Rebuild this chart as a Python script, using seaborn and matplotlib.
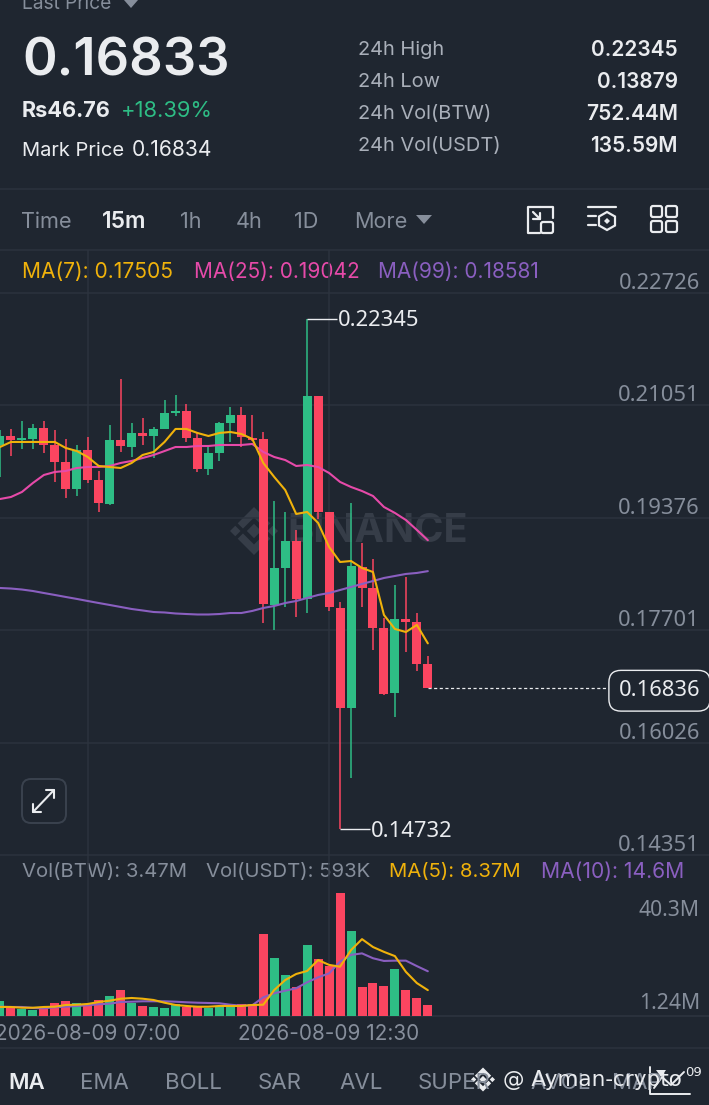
"""
BTW/USDT 15m candle chart, dark exchange app screen
"""
import numpy as np
import pandas as pd
import seaborn as sns
import matplotlib
matplotlib.use('Agg')
import matplotlib.pyplot as plt
from matplotlib.patches import FancyBboxPatch, Polygon
from matplotlib.transforms import ScaledTranslation

# Candles, oldest first
open_px = [0.20461, 0.20595, 0.20536, 0.20551, 0.20714, 0.20461, 0.20208, 0.19806, 0.20387, 0.19940,
           0.19582, 0.20536, 0.20431, 0.20640, 0.20595, 0.20700, 0.20938, 0.20968, 0.20565, 0.20104,
           0.20342, 0.20789, 0.20908, 0.20565, 0.20551, 0.18077, 0.18628, 0.19031, 0.18167, 0.21191,
           0.19463, 0.18032, 0.16542, 0.18643, 0.18330, 0.17734, 0.16766, 0.17869, 0.17824, 0.17198]
close_px = [0.20595, 0.20536, 0.20565, 0.20714, 0.20461, 0.20208, 0.19806, 0.20387, 0.19940, 0.19597,
            0.20536, 0.20446, 0.20640, 0.20595, 0.20700, 0.20938, 0.20968, 0.20565, 0.20104, 0.20342,
            0.20789, 0.20908, 0.20580, 0.20536, 0.18092, 0.18628, 0.19031, 0.18167, 0.21191, 0.19463,
            0.18047, 0.16542, 0.18658, 0.18330, 0.17734, 0.16751, 0.17869, 0.17824, 0.17198, 0.16836]
high_px = [0.20685, 0.20700, 0.20819, 0.20774, 0.20819, 0.20685, 0.20551, 0.20461, 0.20580, 0.20074,
           0.20759, 0.21445, 0.20789, 0.20863, 0.20729, 0.21132, 0.21206, 0.21072, 0.20640, 0.20431,
           0.20804, 0.21027, 0.21027, 0.20908, 0.20655, 0.19627, 0.19463, 0.19195, 0.22345, 0.21191,
           0.19463, 0.18122, 0.19597, 0.19001, 0.18763, 0.17883, 0.18375, 0.18494, 0.17958, 0.17317]
low_px = [0.19984, 0.20297, 0.20402, 0.20402, 0.20342, 0.19910, 0.19671, 0.19701, 0.19895, 0.19463,
          0.19567, 0.20357, 0.20282, 0.20461, 0.20267, 0.20700, 0.20893, 0.20506, 0.20059, 0.20014,
          0.20223, 0.20506, 0.20431, 0.20521, 0.17809, 0.17705, 0.18047, 0.17898, 0.17958, 0.19359,
          0.17988, 0.14732, 0.15499, 0.18047, 0.17407, 0.16736, 0.16408, 0.17377, 0.17094, 0.16836]

ma7 = [0.20431, 0.20506, 0.20506, 0.20506, 0.20506, 0.20506, 0.20416, 0.20371, 0.20282, 0.20148,
       0.20133, 0.20118, 0.20193, 0.20312, 0.20357, 0.20506, 0.20700, 0.20700, 0.20640, 0.20595,
       0.20640, 0.20655, 0.20625, 0.20551, 0.20193, 0.19984, 0.19790, 0.19433, 0.19463, 0.19299,
       0.18941, 0.18717, 0.18732, 0.18628, 0.18568, 0.17928, 0.17719, 0.17674, 0.17779, 0.17505]
ma25 = [0.19656, 0.19686, 0.19761, 0.19895, 0.20014, 0.20059, 0.20074, 0.20118, 0.20133, 0.20133,
        0.20148, 0.20193, 0.20223, 0.20267, 0.20312, 0.20371, 0.20431, 0.20431, 0.20446, 0.20446,
        0.20461, 0.20461, 0.20461, 0.20476, 0.20357, 0.20282, 0.20237, 0.20148, 0.20163, 0.20133,
        0.20044, 0.19910, 0.19835, 0.19775, 0.19701, 0.19537, 0.19448, 0.19343, 0.19195, 0.19042]
ma99 = [0.18330, 0.18322, 0.18307, 0.18285, 0.18255, 0.18226, 0.18196, 0.18167, 0.18136, 0.18106,
        0.18077, 0.18047, 0.18017, 0.17995, 0.17972, 0.17965, 0.17950, 0.17942, 0.17935, 0.17935,
        0.17942, 0.17957, 0.17957, 0.17988, 0.18032, 0.18062, 0.18106, 0.18136, 0.18181, 0.18226,
        0.18255, 0.18300, 0.18345, 0.18390, 0.18434, 0.18479, 0.18509, 0.18539, 0.18554, 0.18581]

# Volume, in millions
volume = [4.79, 2.48, 2.15, 1.82, 2.48, 4.13, 4.79, 4.13, 3.14, 5.12,
          6.44, 8.42, 4.13, 3.14, 2.81, 2.48, 3.80, 2.81, 2.81, 2.48,
          2.81, 2.81, 3.80, 3.80, 26.9, 19.0, 13.4, 9.41, 23.3, 18.6,
          16.3, 40.3, 27.9, 9.41, 10.7, 9.74, 15.3, 8.42, 5.78, 3.47]
vol_ma5 = [2.81, 2.81, 2.57, 2.57, 2.81, 2.90, 3.47, 3.56, 3.80, 4.46,
           4.88, 5.54, 5.78, 5.54, 5.12, 4.22, 3.47, 3.14, 2.90, 2.90,
           3.14, 3.14, 3.14, 3.47, 3.56, 8.42, 11.7, 13.7, 14.7, 18.3,
           16.7, 16.1, 21.6, 25.2, 22.6, 21.0, 19.6, 14.4, 10.7, 8.37]
vol_ma10 = [2.90, 2.81, 2.81, 2.48, 2.38, 2.71, 2.90, 3.14, 3.37, 3.70,
            3.89, 4.46, 4.55, 4.69, 4.69, 4.69, 4.55, 4.36, 4.22, 4.13,
            4.03, 3.56, 3.23, 3.37, 6.01, 7.33, 8.18, 8.98, 10.96, 12.6,
            13.9, 17.8, 20.0, 20.5, 18.9, 18.0, 18.1, 18.1, 16.3, 14.6]

price_ticks = [0.22726, 0.21051, 0.19376, 0.17701, 0.16026, 0.14351]
volume_ticks = [40.3, 1.24]
volume_tick_labels = ['40.3M', '1.24M']
time_ticks = [8, 30]
time_labels = ['2026-08-09 07:00', '2026-08-09 12:30']
last_tick = 0.16836

BG = '#1f2630'
GRID = '#2c333e'
GREEN = '#2ebd85'
RED = '#fb4560'
ORANGE = '#f0b20b'
PINK = '#e64aa9'
PURPLE = '#8a5fc0'
GREY = '#868e9b'
SOFT = '#a9afb9'
LIGHT = '#eaecef'
NUM_FONT = 'Noto Sans'  # tabular digits for the axis numbers
STEP = 10.97  # candle spacing in pixels

sns.set_theme(style='dark', rc={'figure.facecolor': BG, 'axes.facecolor': 'none', 'savefig.facecolor': BG})
plt.rcParams['font.family'] = ['Inter', 'DejaVu Sans']

fig = plt.figure(figsize=(7.09, 11.05), dpi=100)
W, H = 709, 1105


def pane(top, bottom):
    return fig.add_axes([0, 1 - bottom / H, 1, (bottom - top) / H])


# Full screen layer for the app chrome, in pixels
ui = fig.add_axes([0, 0, 1, 1], zorder=0)
ui.set_xlim(0, W)
ui.set_ylim(H, 0)
ui.axis('off')
ax = pane(250, 856)
ax.set_zorder(1)
vax = pane(856, 1015.5)
vax.set_zorder(1)

idx = np.arange(len(open_px))
df = pd.DataFrame({'i': idx, 'open': open_px, 'close': close_px, 'high': high_px, 'low': low_px,
                   'volume': volume})
df['up'] = df['close'] >= df['open']
df['top'] = df[['open', 'close']].max(axis=1)
df['bottom'] = df[['open', 'close']].min(axis=1)
df['body'] = df['top'] - df['bottom']

# Candles
for is_up, color in [(True, GREEN), (False, RED)]:
    part = df[df['up'] == is_up]
    ax.vlines(part['i'], part['low'], part['high'], color=color, linewidth=1.1, zorder=3)
    sns.barplot(data=part, x='i', y='body', bottom=part['bottom'].to_numpy(), native_scale=True, width=0.82,
                color=color, saturation=1, errorbar=None, linewidth=0, ax=ax, zorder=3)

sns.lineplot(x=idx, y=ma99, color=PURPLE, linewidth=1.5, ax=ax, zorder=4)
sns.lineplot(x=idx, y=ma25, color=PINK, linewidth=1.5, ax=ax, zorder=4)
sns.lineplot(x=idx, y=ma7, color=ORANGE, linewidth=1.5, ax=ax, zorder=4)

ax.set_xlim(0, W / STEP)
ax.set_ylim(0.14336, 0.14336 + 606 * 0.01675 / 112.4)
ax.set_xlabel('')
ax.set_ylabel('')
ax.set_xticks(time_ticks)
ax.set_xticklabels([])
ax.set_yticks(price_ticks)
ax.set_yticklabels([f'{t:.5f}' for t in price_ticks])
ax.yaxis.tick_right()
ax.tick_params(axis='y', length=0, pad=-6.5, labelsize=15.8, labelcolor=GREY, labelfontfamily=NUM_FONT)
ax.tick_params(axis='x', length=0)
for tick_label in ax.get_yticklabels():
    tick_label.set_ha('right')
    tick_label.set_va('bottom')
    tick_label.set_transform(tick_label.get_transform() + ScaledTranslation(0, -0.01, fig.dpi_scale_trans))
ax.grid(True, color=GRID, linewidth=1.1)
ax.set_axisbelow(True)
for spine in ax.spines.values():
    spine.set_visible(False)

# Extreme price callouts and the live price tag
for pos, val in [(28, 0.22345), (31, 0.14732)]:
    ax.hlines(val, pos, pos + 30 / STEP, color=LIGHT, linewidth=1, zorder=6)
    ax.annotate(f'{val:.5f}', xy=(pos, val), xytext=(31, -2), textcoords='offset pixels', va='center',
                color=LIGHT, fontsize=15.8, family=NUM_FONT, zorder=6)
ax.plot([39, 55.4], [last_tick, last_tick], color=LIGHT, linewidth=0.9, dashes=(2.5, 2), zorder=5)
ax.text(60.12, last_tick, f'{last_tick:.5f}', ha='center', va='center_baseline', color=LIGHT, fontsize=15.8,
        family=NUM_FONT, zorder=7,
        bbox=dict(boxstyle='round,pad=0.45,rounding_size=0.55', facecolor=BG, edgecolor=LIGHT, linewidth=1))

# Volume
sns.barplot(data=df, x='i', y='volume', hue='up', hue_order=[True, False], palette=[GREEN, RED], dodge=False,
            native_scale=True, width=0.82, saturation=1, errorbar=None, linewidth=0, legend=False, ax=vax,
            zorder=3)
sns.lineplot(x=idx, y=vol_ma10, color=PURPLE, linewidth=1.5, ax=vax, zorder=4)
sns.lineplot(x=idx, y=vol_ma5, color=ORANGE, linewidth=1.5, ax=vax, zorder=4)
vax.set_xlim(0, W / STEP)
vax.set_ylim(0, 159.5 * 0.33)
vax.set_xlabel('')
vax.set_ylabel('')
vax.set_xticks(time_ticks)
vax.set_xticklabels(time_labels)
vax.tick_params(axis='x', length=0, pad=6, labelsize=14.9, labelcolor=GREY)
vax.set_yticks(volume_ticks)
vax.set_yticklabels(volume_tick_labels)
vax.yaxis.tick_right()
vax.tick_params(axis='y', length=0, pad=-6.5, labelsize=15.2, labelcolor=GREY, labelfontfamily=NUM_FONT)
for tick_label, va, shift in zip(vax.get_yticklabels(), ['top', 'bottom'], [-0.07, -0.02]):
    tick_label.set_ha('right')
    tick_label.set_va(va)
    tick_label.set_transform(tick_label.get_transform() + ScaledTranslation(0, shift, fig.dpi_scale_trans))
vax.xaxis.grid(True, color=GRID, linewidth=1.1)
vax.yaxis.grid(False)
vax.set_axisbelow(True)
for name, spine in vax.spines.items():
    spine.set_visible(name == 'bottom')
    spine.set_color(GRID)


def label(x, y, text, color=GREY, size=14.6, ha='left', weight='normal', family=None):
    ui.text(x, y + 2, text, color=color, fontsize=size, ha=ha, va='center', fontweight=weight, family=family)


def line(xs, ys, color=LIGHT, lw=1.6):
    ui.plot(xs, ys, color=color, linewidth=lw, solid_capstyle='round', solid_joinstyle='round')


def rbox(x, y, w, h, r=2.0, color=LIGHT, lw=1.6, fill='none'):
    ui.add_patch(FancyBboxPatch((x + r, y + r), w - 2 * r, h - 2 * r, boxstyle=f'round,pad={r},rounding_size={r}',
                                facecolor=fill, edgecolor=color, linewidth=lw))


def logo(cx, cy, s, color):
    # exchange mark: four outer pieces and a centre diamond
    for dx, dy, r in [(0, 0, 0.3), (-0.78, 0, 0.22), (0.78, 0, 0.22)]:
        ui.add_patch(Polygon([[cx + dx * s, cy - r * s], [cx + (dx + r) * s, cy], [cx + dx * s, cy + r * s],
                              [cx + (dx - r) * s, cy]], closed=True, facecolor=color, edgecolor='none'))
    for sign in (-1, 1):
        pts = [(0, 1), (0.68, 0.32), (0.46, 0.1), (0, 0.56), (-0.46, 0.1), (-0.68, 0.32)]
        ui.add_patch(Polygon([[cx + a * s, cy + sign * b * s] for a, b in pts], closed=True, facecolor=color,
                             edgecolor='none'))


# Header
label(22, 2, 'Last Price', size=13.8)
ui.add_patch(Polygon([[124, 0], [138, 0], [131, 8]], closed=True, facecolor=GREY, edgecolor='none'))
label(22, 60, '0.16833', color=LIGHT, size=37.8, weight='semibold')
label(22, 109, 'Rs46.76', color=LIGHT, size=15.6, weight='bold')
label(121, 109, '+18.39%', color=GREEN, size=15.8)
label(22, 148.5, 'Mark Price', color=LIGHT, size=14.5)
label(132, 148.5, '0.16834', color=LIGHT, size=15.2)
for y, name, val in [(48, '24h High', '0.22345'), (80, '24h Low', '0.13879'),
                     (112, '24h Vol(BTW)', '752.44M'), (144, '24h Vol(USDT)', '135.59M')]:
    label(358.5, y, name, color=SOFT, size=14.4)
    label(678, y, val, color=LIGHT, size=15.0, ha='right', weight='semibold')
ui.plot([0, W], [189, 189], color=GRID, linewidth=1.1)
ui.plot([0, W], [250, 250], color=GRID, linewidth=1.1)

# Interval tabs
for x, name, col, wt in [(21, 'Time', GREY, 'normal'), (102, '15m', LIGHT, 'semibold'), (180, '1h', GREY, 'normal'),
                         (236, '4h', GREY, 'normal'), (294, '1D', GREY, 'normal'), (354, 'More', GREY, 'normal')]:
    label(x, 220, name, color=col, size=16.4 if wt == 'semibold' else 15.6, weight=wt)
ui.add_patch(Polygon([[416, 215], [432, 215], [424, 224]], closed=True, facecolor=GREY, edgecolor='none'))

# Toolbar icons
line([540, 527.5, 527.5, 540], [206.5, 206.5, 232.5, 232.5])
line([540, 552.5, 552.5], [206.5, 206.5, 218])
rbox(541, 222, 12, 11)
line([533, 540, 540], [212, 219, 213])
line([533, 540], [219, 219])
line([588, 616], [207, 207])
line([588, 596], [216, 216])
line([588, 596], [225, 225])
ui.add_patch(Polygon([[607, 212], [615, 216.5], [615, 225.5], [607, 230], [599, 225.5], [599, 216.5]], closed=True,
                     facecolor='none', edgecolor=LIGHT, linewidth=1.6))
ui.add_patch(Polygon([[607, 218], [610, 221], [607, 224], [604, 221]], closed=True, facecolor=LIGHT, edgecolor='none'))
for bx, by in [(651, 206), (666, 206), (651, 221), (666, 221)]:
    rbox(bx, by, 11, 11)

# Indicator readouts
label(22, 270, 'MA(7): 0.17505', color=ORANGE, size=15.1)
label(194, 270, 'MA(25): 0.19042', color=PINK, size=15)
label(378, 270, 'MA(99): 0.18581', color=PURPLE, size=15)
label(22, 870, 'Vol(BTW): 3.47M')
label(206, 870, 'Vol(USDT): 593K')
label(389, 870, 'MA(5): 8.37M', color=ORANGE)
label(541, 870, 'MA(10): 14.6M', color=PURPLE, size=15.2)

# Watermark
WM = '#363d48'
ui.text(378, 531.5, 'BINANCE', color=WM, fontsize=28.5, fontweight='bold', ha='center', va='center')
logo(254, 531, 24, WM)

# Expand button
rbox(22, 779, 44, 44, r=9, color='#3a424e', lw=1.4)
line([33, 54], [812, 790], lw=1.5)
line([33, 33, 41], [804, 812, 812], lw=1.5)
line([46, 54, 54], [790, 790, 798], lw=1.5)

# Bottom menu
ui.plot([0, W], [1047.5, 1047.5], color=GRID, linewidth=1.1)
label(8, 1081, 'MA', color=LIGHT, size=16, weight='semibold')
for x, name in [(80, 'EMA'), (165, 'BOLL'), (258, 'SAR'), (339, 'AVL'), (418, 'SUPER'), (530, 'AVOL'), (612, 'MAP')]:
    label(x, 1081, name, size=16)

# Repost overlay
line([650, 650, 690], [1067, 1094, 1094], lw=1.4)
line([654, 662, 671, 684], [1088, 1077, 1085, 1072], lw=1.4)
ui.add_patch(Polygon([[656, 1070], [666, 1070], [661, 1077]], closed=True, facecolor=LIGHT, edgecolor='none'))
logo(483, 1079.5, 14, BG)
logo(483, 1079.5, 12, LIGHT)
label(503, 1078.5, '@ Ayman-crypto', color=LIGHT, size=15.5, family='DejaVu Sans')
label(685, 1071, '09', color=LIGHT, size=9.5, family='DejaVu Sans')

fig.savefig('out.png', dpi=100, facecolor=BG)
